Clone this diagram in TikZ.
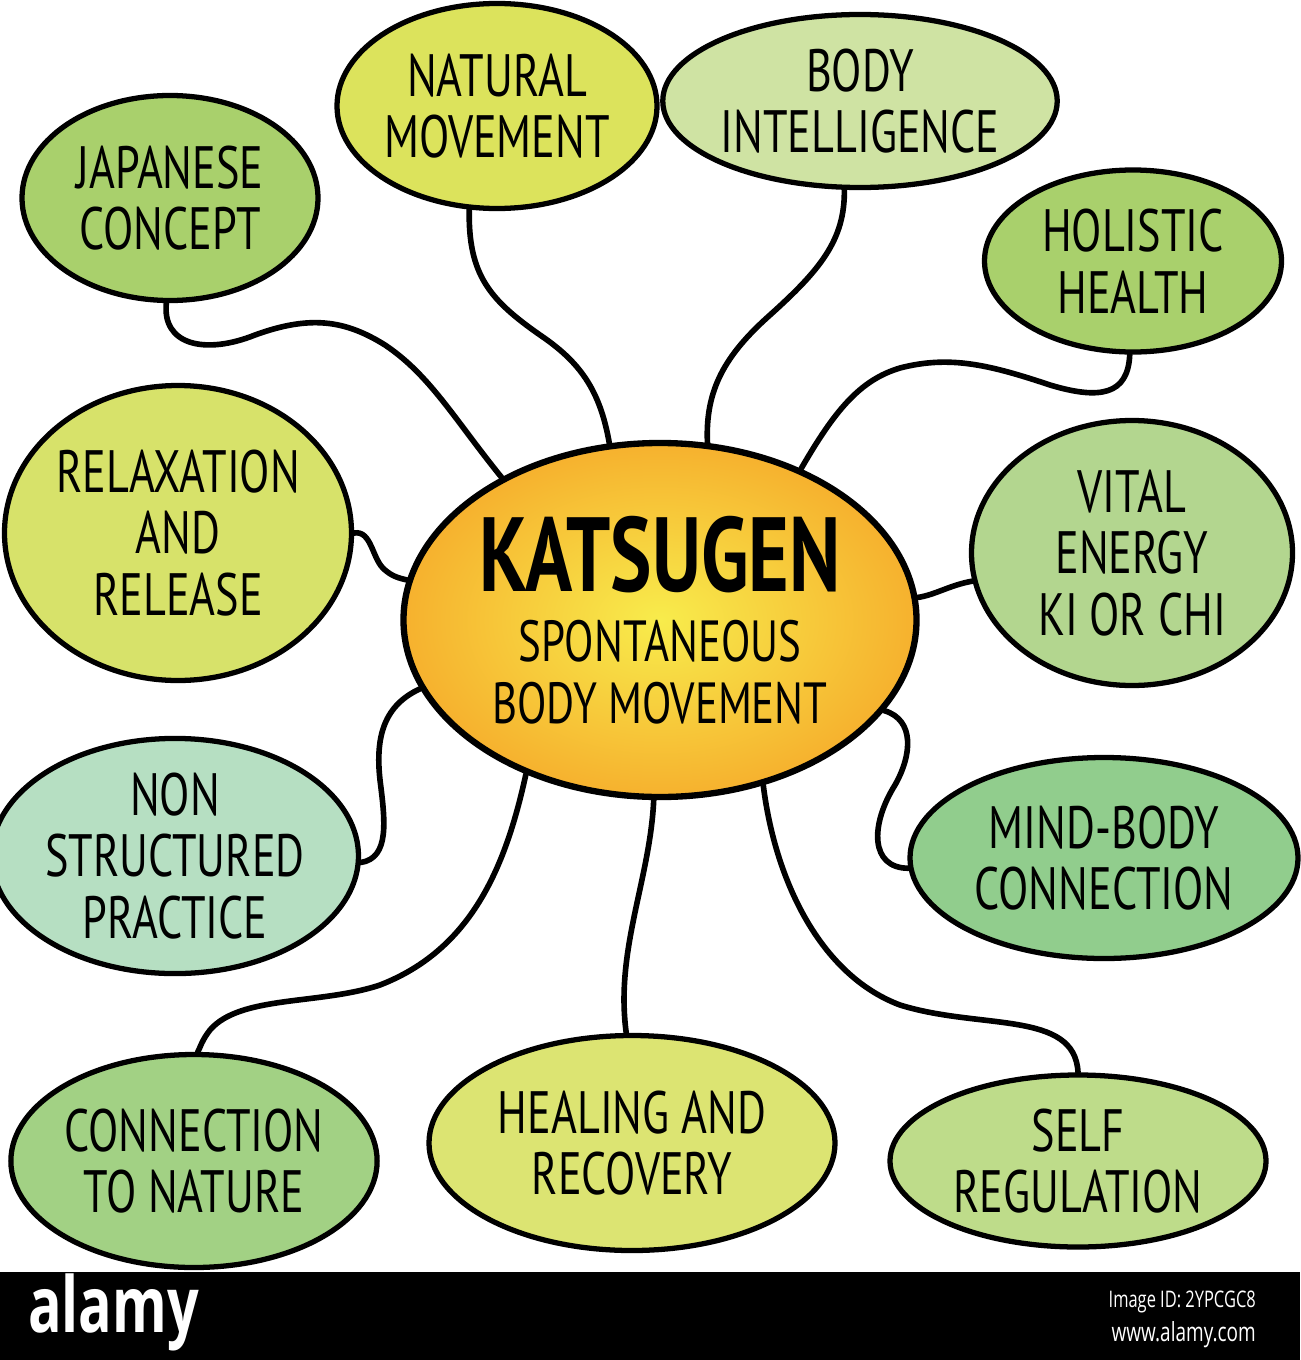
\documentclass[tikz,border=0pt]{standalone}
\usepackage{fontspec}
\usepackage{tikz}
\usetikzlibrary{shapes.geometric}
\newfontfamily\hand{PT Sans}[FakeStretch=0.74]
\newfontfamily\tagfont{Open Sans}[FakeStretch=0.72]
\definecolor{hubin}{HTML}{F8EC4C}
\definecolor{hubout}{HTML}{F6B12E}
\definecolor{leafa}{HTML}{A9D06C}
\definecolor{leafb}{HTML}{DCE35C}
\definecolor{leafc}{HTML}{CFE3A3}
\definecolor{leafd}{HTML}{D7E26A}
\definecolor{leafe}{HTML}{B3D68F}
\definecolor{leaff}{HTML}{B6DFC2}
\definecolor{leafg}{HTML}{91CD8D}
\definecolor{leafh}{HTML}{A2D184}
\definecolor{leafi}{HTML}{DCE472}
\definecolor{leafj}{HTML}{BEDC8A}
\tikzset{
  idea/.style={ellipse, draw=black, line width=3pt, inner sep=0pt,
    align=center, font=\hand\fontsize{34}{35}\selectfont},
  link/.style={line width=3.2pt, line cap=round},
}

\begin{document}
\begin{tikzpicture}[
  x=0.2mm, y=-0.2mm,
  hub/.style={idea, line width=3.6pt, shading=radial,
    inner color=hubin, outer color=hubout,
    font=\hand\fontsize{33}{35}\selectfont}
]
\useasboundingbox (0,0) rectangle (1300,1360);

% centre
\node[hub, minimum width=102.6mm, minimum height=70.8mm] (centre) at (660,620)
  {{\fontsize{60}{60}\selectfont\bfseries KATSUGEN}\\[5pt] SPONTANEOUS\\ BODY MOVEMENT};

% ideas round it
\node[idea, fill=leafa, minimum width=59.2mm, minimum height=41mm] (jap) at (170,198) {JAPANESE\\CONCEPT};
\node[idea, fill=leafb, minimum width=64mm, minimum height=41mm] (nat) at (497,106) {NATURAL\\MOVEMENT};
\node[idea, fill=leafc, minimum width=74mm, minimum height=34.6mm] (body) at (860,101) {BODY\\INTELLIGENCE};
\node[idea, fill=leafa, minimum width=59.4mm, minimum height=36.4mm] (hol) at (1133,261) {HOLISTIC\\HEALTH};
\node[idea, fill=leafd, minimum width=69.4mm, minimum height=59mm] (rel) at (178,533) {RELAXATION\\AND\\RELEASE};
\node[idea, fill=leafe, minimum width=64.2mm, minimum height=53mm] (vital) at (1132,553) {VITAL\\ENERGY\\KI OR CHI};
\node[idea, fill=leaff, minimum width=69.6mm, minimum height=46.4mm] (non) at (175,856) {NON\\STRUCTURED\\PRACTICE};
\node[idea, fill=leafg, minimum width=77.6mm, minimum height=40.2mm] (mind) at (1104,858) {MIND-BODY\\CONNECTION};
\node[idea, fill=leafh, minimum width=68.8mm, minimum height=42.6mm] (conn) at (194,1161) {CONNECTION\\TO NATURE};
\node[idea, fill=leafi, minimum width=81.2mm, minimum height=43mm] (heal) at (632,1143) {HEALING AND\\RECOVERY};
\node[idea, fill=leafj, minimum width=75.2mm, minimum height=34.4mm] (self) at (1078,1161) {SELF\\REGULATION};

% wavy links
\draw[link] (jap.268) .. controls (162,345) and (205,355) .. (255,335)
  .. controls (310,315) and (345,320) .. (385,345)
  .. controls (430,375) and (455,420) .. (centre.138);
\draw[link] (nat.255) .. controls (468,275) and (490,300) .. (540,335)
  .. controls (580,362) and (600,390) .. (centre.106);
\draw[link] (body.260) .. controls (845,240) and (820,270) .. (770,315)
  .. controls (725,355) and (705,390) .. (centre.75);
\draw[link] (hol.268) .. controls (1128,395) and (1100,400) .. (1050,385)
  .. controls (990,365) and (950,355) .. (900,368)
  .. controls (860,380) and (835,410) .. (centre.47);
\draw[link] (rel.east) .. controls (372,530) and (372,560) .. (385,570)
  .. controls (392,576) and (398,578) .. (centre.171);
\draw[link] (centre.5) .. controls (935,595) and (950,585) .. (vital.190);
\draw[link] (non.358) .. controls (390,858) and (385,820) .. (380,780)
  .. controls (375,735) and (385,705) .. (centre.196);
\draw[link] (centre.338) .. controls (915,720) and (912,755) .. (895,785)
  .. controls (870,825) and (870,868) .. (mind.183);
\draw[link] (centre.229) .. controls (505,870) and (470,950) .. (380,985)
  .. controls (320,1005) and (240,995) .. (210,1030)
  .. controls (202,1040) and (200,1048) .. (conn.88);
\draw[link] (centre.268) .. controls (650,880) and (615,950) .. (heal.93);
\draw[link] (centre.302) .. controls (775,880) and (820,975) .. (900,1005)
  .. controls (980,1030) and (1075,1010) .. (self.north);

% banner
\fill[black] (0,1272) rectangle (1300,1360);
\node[text=white, font=\tagfont\bfseries\fontsize{44}{44}\selectfont, anchor=west] (brand) at (22,1312) {alamy};
\node[text=white, font=\tagfont\fontsize{13}{13}\selectfont, anchor=east] (imgid) at (1262,1302) {Image ID: 2YPCGC8};
\node[text=white, font=\tagfont\fontsize{15}{15}\selectfont, anchor=east] (site) at (1262,1335) {www.alamy.com};
\end{tikzpicture}
\end{document}
